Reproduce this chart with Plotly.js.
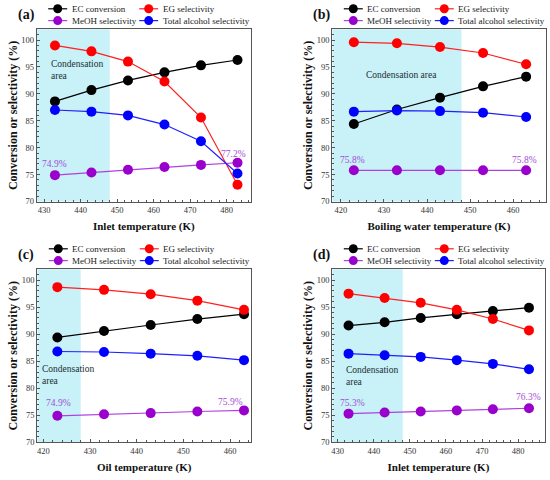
<!DOCTYPE html>
<html>
<head>
<meta charset="utf-8">
<script src="https://cdn.plot.ly/plotly-3.0.1.min.js"></script>
<style>
  html, body { margin: 0; padding: 0; background: #fff; }
  #chart { width: 550px; height: 480px; }
</style>
</head>
<body>
<div id="chart"></div>
<script>
// Panel (a): inlet temperature
var xA = [433, 443, 453, 463, 473, 483];
var ecA = [88.6, 90.7, 92.5, 94.0, 95.3, 96.3];
var egA = [99.0, 97.9, 96.0, 92.3, 85.6, 73.1];
var meA = [74.9, 75.4, 75.9, 76.4, 76.8, 77.2];
var taA = [87.0, 86.7, 86.0, 84.3, 81.2, 75.2];

// Panel (b): boiling water temperature
var xB = [423, 433, 443, 453, 463];
var ecB = [84.4, 87.1, 89.3, 91.4, 93.2];
var egB = [99.6, 99.4, 98.7, 97.6, 95.5];
var meB = [75.8, 75.8, 75.8, 75.8, 75.8];
var taB = [86.7, 86.9, 86.8, 86.5, 85.7];

// Panel (c): oil temperature
var xC = [423, 433, 443, 453, 463];
var ecC = [89.4, 90.6, 91.7, 92.8, 93.7];
var egC = [98.7, 98.2, 97.4, 96.2, 94.5];
var meC = [74.9, 75.2, 75.4, 75.7, 75.9];
var taC = [86.8, 86.7, 86.4, 86.0, 85.2];

// Panel (d): inlet temperature
var xD = [433, 443, 453, 463, 473, 483];
var ecD = [91.6, 92.2, 93.0, 93.7, 94.3, 94.9];
var egD = [97.5, 96.7, 95.8, 94.5, 92.8, 90.7];
var meD = [75.3, 75.5, 75.7, 75.9, 76.1, 76.3];
var taD = [86.4, 86.1, 85.8, 85.2, 84.5, 83.5];

var seriesNames = ['EC conversion', 'EG selectivity', 'MeOH selectivity', 'Total alcohol selectivity'];
var panelLabels = ['(a)', '(b)', '(c)', '(d)'];
var xTitles = ['Inlet temperature (K)', 'Boiling water temperature (K)', 'Oil temperature (K)', 'Inlet temperature (K)'];
var condEnd = [448, 448, 428, 448];

var W = 550, H = 480;
var FONT = 'Times New Roman, Liberation Serif, serif';
var markerColors = ['#000000', '#ff0000', '#9a00cc', '#0000ff'];
var lineColors = ['#000000', '#ff2020', '#b040e0', '#2020ff'];
var pctColor = '#a24ed6';
var cyan = '#c8f1f8';

function px(x) { return x / W; }
function py(y) { return 1 - y / H; }

// pixel boxes of the four plot areas [left, right, top, bottom]
var boxes = [
  [36.7, 251, 29.3, 201.5],
  [332.3, 545.5, 29.3, 201.5],
  [37.3, 251, 269.3, 442.3],
  [332.3, 544.5, 269.3, 442.3]
];
var xRanges = [[428, 486.7], [418, 467.5], [418.7, 464.5], [428.5, 487.3]];

var panels = [
  {x: xA, ys: [ecA, egA, meA, taA]},
  {x: xB, ys: [ecB, egB, meB, taB]},
  {x: xC, ys: [ecC, egC, meC, taC]},
  {x: xD, ys: [ecD, egD, meD, taD]}
];

// where the two % labels sit relative to first/last MeOH point
var pctShift = [
  [[0, 11], [-4, 9]],
  [[-1, 10], [-2, 10]],
  [[1, 12.5], [-14, 8.5]],
  [[4, 11], [0, 11.5]]
];
// condensation label [x px, y px, one line?]
var condText = [
  [49, 70.5, false],
  [364.3, 75, true],
  [40, 374.7, false],
  [344, 375.7, false]
];

var data = [];
var layout = {
  width: W, height: H,
  margin: {l: 0, r: 0, t: 0, b: 0},
  paper_bgcolor: '#fff',
  plot_bgcolor: 'rgba(0,0,0,0)',
  showlegend: false,
  font: {family: FONT, color: '#222'},
  shapes: [],
  annotations: []
};

panels.forEach(function (p, i) {
  var n = i === 0 ? '' : String(i + 1);
  var b = boxes[i];

  p.ys.forEach(function (y, k) {
    data.push({
      type: 'scatter', mode: 'lines+markers',
      x: p.x, y: y, name: seriesNames[k],
      xaxis: 'x' + n, yaxis: 'y' + n,
      line: {color: lineColors[k], width: 1.2},
      marker: {color: markerColors[k], size: 10},
      cliponaxis: false
    });
  });

  var axBase = {
    showgrid: false, zeroline: false,
    showline: true, linecolor: '#555', linewidth: 1, mirror: true,
    ticks: 'inside', ticklen: 3, tickwidth: 1, tickcolor: '#555',
    tickfont: {family: FONT, size: 8.5, color: '#333'},
    minor: {ticks: 'inside', ticklen: 2, tickcolor: '#555'}
  };

  layout['xaxis' + n] = Object.assign({}, axBase, {
    domain: [px(b[0]), px(b[1])],
    anchor: 'y' + n,
    range: xRanges[i],
    dtick: 10,
    title: {text: xTitles[i], font: {family: FONT, size: 11, weight: 'bold', color: '#111'}, standoff: 8}
  });
  layout['yaxis' + n] = Object.assign({}, axBase, {
    domain: [py(b[3]), py(b[2])],
    anchor: 'x' + n,
    range: [70, 102],
    dtick: 5,
    title: {text: 'Conversion or selectivity (%)', font: {family: FONT, size: 12, weight: 'bold', color: '#111'}, standoff: 1}
  });

  // condensation band
  layout.shapes.push({
    type: 'rect', layer: 'below',
    xref: 'x' + n, yref: 'y' + n + ' domain',
    x0: xRanges[i][0], x1: condEnd[i], y0: 0, y1: 1,
    fillcolor: cyan, line: {width: 0}
  });

  // hand-built legend: two columns x two rows above the box
  var colX = [b[0] + 21, b[0] + 112];
  var rowY = [b[2] - 20.5, b[2] - 8.7];
  var order = [[0, 0], [1, 0], [0, 1], [1, 1]]; // [col,row] for each series
  seriesNames.forEach(function (name, k) {
    var cx = colX[order[k][0]], cy = rowY[order[k][1]];
    layout.shapes.push({
      type: 'line', xref: 'paper', yref: 'paper',
      x0: px(cx - 9.5), x1: px(cx + 9.5), y0: py(cy), y1: py(cy),
      line: {color: lineColors[k], width: 1.2}
    });
    layout.shapes.push({
      type: 'circle', xref: 'paper', yref: 'paper',
      x0: px(cx - 4.5), x1: px(cx + 4.5), y0: py(cy + 4.5), y1: py(cy - 4.5),
      fillcolor: markerColors[k], line: {width: 0}
    });
    layout.annotations.push({
      xref: 'paper', yref: 'paper', x: px(cx + 12), y: py(cy),
      xanchor: 'left', yanchor: 'middle', showarrow: false,
      text: name, font: {family: FONT, size: 9, color: '#222'}
    });
  });

  // panel letter
  layout.annotations.push({
    xref: 'paper', yref: 'paper', x: px(b[0] - 21), y: py(b[2] - 14.5),
    xanchor: 'left', yanchor: 'middle', showarrow: false,
    text: panelLabels[i], font: {family: FONT, size: 14, weight: 'bold', color: '#111'}
  });

  // condensation area label
  var ct = condText[i];
  layout.annotations.push({
    xref: 'paper', yref: 'paper', x: px(ct[0]), y: py(ct[1]),
    xanchor: 'left', yanchor: 'middle', align: 'left', showarrow: false,
    text: ct[2] ? 'Condensation area' : 'Condensation<br>area',
    font: {family: FONT, size: 9.5, color: '#203030'}
  });

  // MeOH first / last values
  var me = p.ys[2], last = me.length - 1;
  [0, last].forEach(function (j, s) {
    layout.annotations.push({
      xref: 'x' + n, yref: 'y' + n, x: p.x[j], y: me[j],
      xshift: pctShift[i][s][0], yshift: pctShift[i][s][1],
      xanchor: 'center', yanchor: 'middle', showarrow: false,
      text: me[j].toFixed(1) + '%',
      font: {family: FONT, size: 9.5, color: pctColor}
    });
  });
});

Plotly.newPlot('chart', data, layout, {staticPlot: true});
</script>
</body>
</html>
